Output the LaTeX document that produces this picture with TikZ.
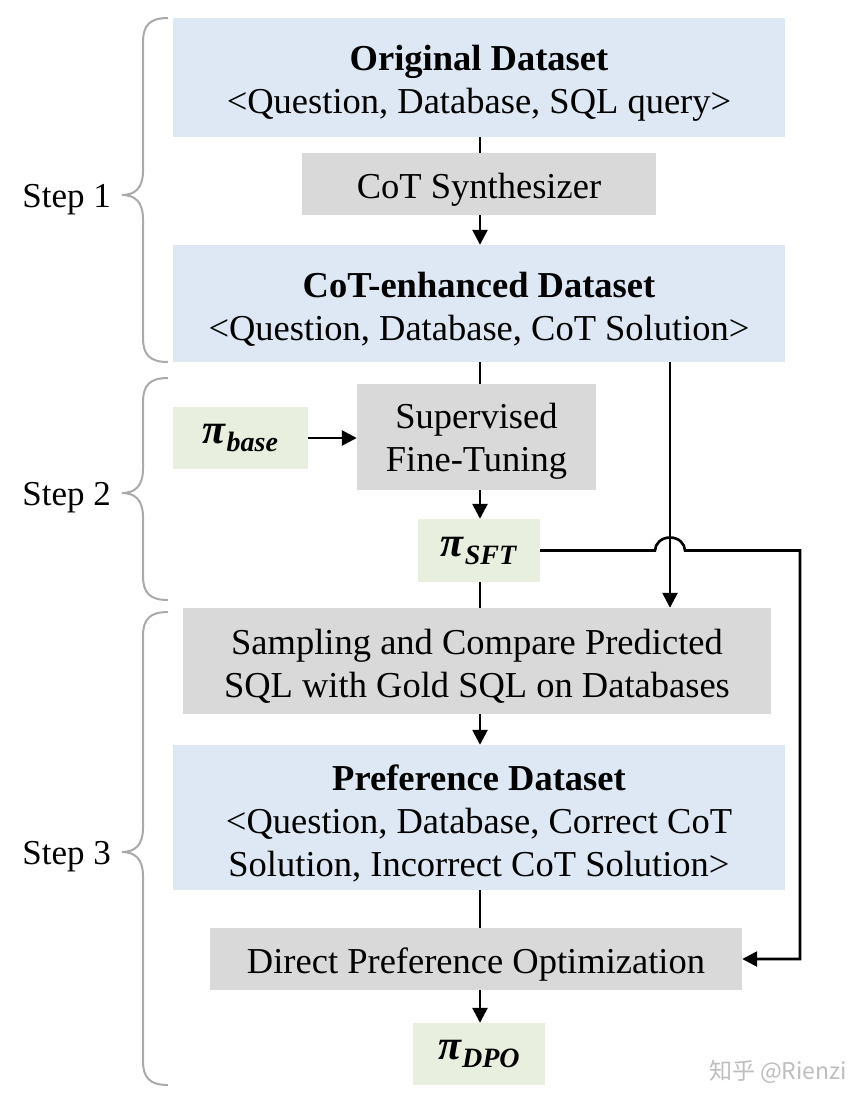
\documentclass[tikz,border=0pt]{standalone}
\usepackage{fontspec}
\setmainfont{Liberation Serif}
\newfontfamily\cjkwm{Noto Sans CJK SC}
\usetikzlibrary{arrows.meta}
\definecolor{boxblue}{RGB}{222,232,244}
\definecolor{boxgray}{RGB}{217,217,217}
\definecolor{boxgreen}{RGB}{232,239,222}
\definecolor{bracegray}{RGB}{170,170,170}
\definecolor{wmgray}{RGB}{190,190,190}
\tikzset{
  base/.style={rectangle, inner sep=0pt},
  bluebox/.style={base, fill=boxblue},
  graybox/.style={base, fill=boxgray},
  greenbox/.style={base, fill=boxgreen},
  txt/.style={inner sep=0pt, align=center, font=\fontsize{36.5}{43}\selectfont},
  conn/.style={line width=2.6pt, draw=black},
  arr/.style={conn, -{Triangle[length=15pt,width=15pt]}},
  bracestyle/.style={line width=2pt, draw=bracegray},
  steplabel/.style={anchor=east, inner sep=0pt, font=\fontsize{35}{40}\selectfont}
}
\newcommand\pilabel[1]{{\fontsize{42}{44}\selectfont\textbf{\textit{π}}}\raisebox{-8pt}{\fontsize{28}{30}\selectfont\textbf{\textit{#1}}}}
\newcommand\drawstepbrace[3]{%
  \draw[bracestyle] (168,{-(#1)}) .. controls (150,{-(#1)}) and (143,{-(#1)-7}) .. (143,{-(#1)-24})
    -- (143,{-(#3)+24}) .. controls (143,{-(#3)+7}) and (135,{-(#3)}) .. (122,{-(#3)})
    .. controls (135,{-(#3)}) and (143,{-(#3)-7}) .. (143,{-(#3)-24})
    -- (143,{-(#2)+24}) .. controls (143,{-(#2)+7}) and (150,{-(#2)}) .. (168,{-(#2)});}
\begin{document}
\begin{tikzpicture}[x=1pt,y=1pt]
\useasboundingbox[fill=white] (0,0) rectangle (866,-1106);

% boxes
\node[bluebox, minimum width=612pt, minimum height=119pt] (orig) at (479,-77.5) {};
\node[graybox, minimum width=354pt, minimum height=62pt] (synth) at (479,-184) {};
\node[bluebox, minimum width=612pt, minimum height=117pt] (cot) at (479,-303.5) {};
\node[graybox, minimum width=239pt, minimum height=106pt] (sft) at (476.5,-437) {};
\node[greenbox, minimum width=135pt, minimum height=62pt] (pibase) at (240.5,-438) {};
\node[greenbox, minimum width=122pt, minimum height=63pt] (pisft) at (479,-550.5) {};
\node[graybox, minimum width=588pt, minimum height=106pt] (samp) at (477,-661) {};
\node[bluebox, minimum width=612pt, minimum height=145pt] (pref) at (479,-817.5) {};
\node[graybox, minimum width=532pt, minimum height=62pt] (dpo) at (476,-959) {};
\node[greenbox, minimum width=132pt, minimum height=62pt] (pidpo) at (479,-1054) {};

% texts
\node[txt] (origT) at ([yshift=-6pt]orig.center)
  {\textbf{Original Dataset}\\{<}Question, Database, SQL query{>}};
\node[txt] (synthT) at ([yshift=-6pt]synth.center) {CoT Synthesizer};
\node[txt] (cotT) at ([yshift=-6pt]cot.center)
  {\textbf{CoT-enhanced Dataset}\\{<}Question, Database, CoT Solution{>}};
\node[txt] (sftT) at ([yshift=-4pt]sft.center) {Supervised\\Fine-Tuning};
\node[txt] (sampT) at ([yshift=-5pt]samp.center)
  {Sampling and Compare Predicted\\SQL with Gold SQL on Databases};
\node[txt] (prefT) at ([yshift=-6pt]pref.center)
  {\textbf{Preference Dataset}\\{<}Question, Database, Correct CoT\\Solution, Incorrect CoT Solution{>}};
\node[txt] (dpoT) at ([yshift=-6pt]dpo.center) {Direct Preference Optimization};
\node[txt] (pibaseT) at ([yshift=0pt]pibase.center) {\pilabel{base}};
\node[txt] (pisftT) at ([yshift=0pt]pisft.center) {\pilabel{SFT}};
\node[txt] (pidpoT) at ([yshift=0pt]pidpo.center) {\pilabel{DPO}};

% step labels and braces
\node[steplabel] (s1) at (111,-200) {Step 1};
\node[steplabel] (s2) at (111,-498) {Step 2};
\node[steplabel] (s3) at (111,-857) {Step 3};
\drawstepbrace{18}{362}{195}
\drawstepbrace{378}{600}{493}
\drawstepbrace{612}{1085}{852}

% connectors
\draw[conn] (orig.south -| 480,0) -- (synth.north -| 480,0);
\draw[arr] (synth.south -| 480,0) -- (cot.north -| 480,0);
\draw[conn] (cot.south -| 480,0) -- (sft.north -| 480,0);
\draw[arr] (pibase.east) -- (sft.west |- pibase.east);
\draw[arr] (sft.south -| 480,0) -- (pisft.north -| 480,0);
\draw[conn] (pisft.south -| 480,0) -- (samp.north -| 480,0);
\draw[arr] (cot.south -| 670,0) -- (samp.north -| 670,0);
\draw[arr] (samp.south -| 480,0) -- (pref.north -| 480,0);
\draw[conn] (pref.south -| 480,0) -- (dpo.north -| 480,0);
\draw[arr] (dpo.south -| 480,0) -- (pidpo.north -| 480,0);

\coordinate (hopL) at (655,-550.5);
\coordinate (turn) at (800,-550.5);
\draw[arr, line join=miter] (pisft.east) -- (hopL) arc[start angle=180, end angle=0, x radius=15pt, y radius=13pt] -- (turn) |- (dpo.east);

% watermark
\node[anchor=center, text=wmgray, font=\cjkwm\fontsize{23}{26}\selectfont] (wm) at (778,-1072) {知乎 @Rienzi};
\end{tikzpicture}
\end{document}
